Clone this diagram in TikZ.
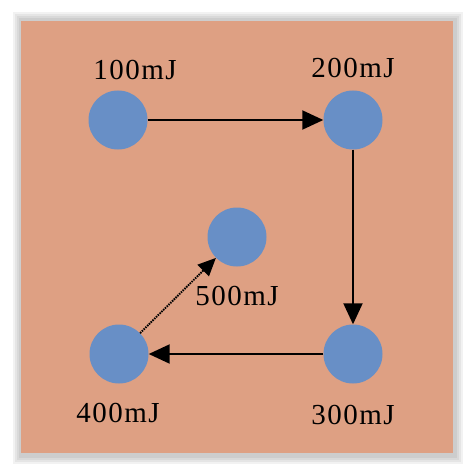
\documentclass[tikz,border=0pt]{standalone}
\usepackage{fontspec}
\setmainfont{Liberation Serif}[LetterSpace=5]
\usetikzlibrary{arrows.meta}
\definecolor{panel}{RGB}{222,160,131}
\definecolor{dot}{RGB}{104,143,198}

\begin{document}
\begin{tikzpicture}[x=1pt,y=-1pt,
    energy/.style={circle, fill=dot, minimum size=59pt, inner sep=0pt},
    tag/.style={font=\fontsize{29}{32}\selectfont, text=black, inner sep=0pt},
    flow/.style={line width=2pt, -{Triangle[length=21pt,width=19pt]}}]
  \useasboundingbox (0,0) rectangle (474,476);
  \fill[white] (0,0) rectangle (474,476);
  % shadow round the panel
  \foreach \s in {8,6,4,2}
    \fill[black, opacity=0.05] (21-\s,20-\s) rectangle (455+\s,456+\s);
  \fill[panel] (21,21) rectangle (453,453);
  % the five states
  \node[energy] (e100) at (118,120) {};
  \node[energy] (e200) at (353,120) {};
  \node[energy] (e300) at (353,354) {};
  \node[energy] (e400) at (119,354) {};
  \node[energy] (e500) at (237,237) {};
  \node[tag] at (135,70) {100mJ};
  \node[tag] at (353,68) {200mJ};
  \node[tag] at (353,415) {300mJ};
  \node[tag] at (118,413) {400mJ};
  \node[tag] at (237,296) {500mJ};
  % transitions
  \draw[flow] (e100) -- (e200);
  \draw[flow] (e200) -- (e300);
  \draw[flow] (e300) -- (e400);
  \draw[flow, line width=1.9pt, dash pattern=on 1.5pt off 1pt, -{Triangle[length=18pt,width=16pt]}] (e400) -- (e500);
\end{tikzpicture}
\end{document}
